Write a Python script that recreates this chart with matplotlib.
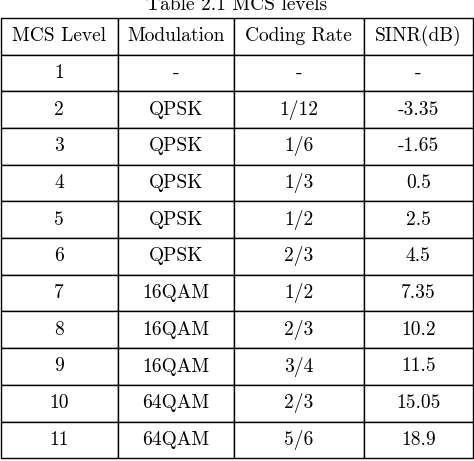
import matplotlib
matplotlib.use("Agg")
import matplotlib.pyplot as plt

plt.rcParams['font.family'] = ['cmr10', 'DejaVu Serif']
plt.rcParams['axes.unicode_minus'] = False

headers = ["MCS Level", "Modulation", "Coding Rate", "SINR(dB)"]
levels = [str(i) for i in range(1, 12)]
modulation = ["-", "QPSK", "QPSK", "QPSK", "QPSK", "QPSK",
              "16QAM", "16QAM", "16QAM", "64QAM", "64QAM"]
coding_rate = ["-", "1/12", "1/6", "1/3", "1/2", "2/3",
               "1/2", "2/3", "3/4", "2/3", "5/6"]
sinr = ["-", "-3.35", "-1.65", "0.5", "2.5", "4.5",
        "7.35", "10.2", "11.5", "15.05", "18.9"]

rows = [list(r) for r in zip(levels, modulation, coding_rate, sinr)]

fig = plt.figure(figsize=(4.74, 4.61), dpi=100)
ax = fig.add_axes([0, 0, 1, 1])
ax.axis("off")

col_widths = [0.247, 0.247, 0.274, 0.232]
tbl = ax.table(cellText=rows, colLabels=headers, cellLoc="center",
               colWidths=col_widths, bbox=[0.002, 0.006, 0.996, 0.955])
tbl.auto_set_font_size(False)
tbl.set_fontsize(14)
for cell in tbl.get_celld().values():
    cell.set_linewidth(1.0)
    cell.set_edgecolor("black")

fig.text(0.5, 1.008, "Table 2.1 MCS levels", ha="center", va="top", fontsize=14)

fig.savefig("out.png", dpi=100)
